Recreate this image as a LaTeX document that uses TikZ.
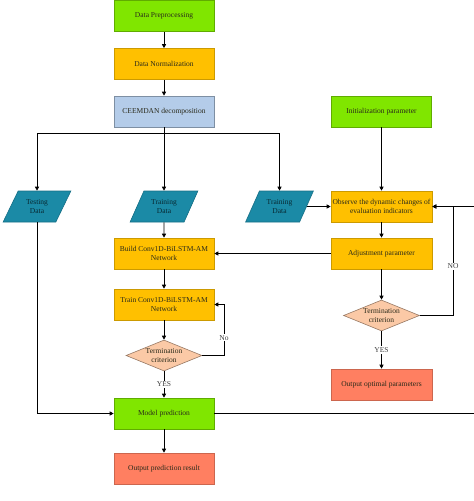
\documentclass[tikz,border=0pt]{standalone}
\usepackage{fontspec}
\setmainfont{Liberation Serif}
\usetikzlibrary{shapes.geometric,arrows.meta}
\definecolor{cgreen}{HTML}{80E600}
\definecolor{corange}{HTML}{FFC000}
\definecolor{cblue}{HTML}{B4CCE9}
\definecolor{cteal}{HTML}{1B8AA6}
\definecolor{cpeach}{HTML}{FBC9A6}
\definecolor{ccoral}{HTML}{FF7F61}
\definecolor{ctext}{HTML}{2A2A1A}
\tikzset{
  box/.style={rectangle, minimum width=100pt, minimum height=31pt, inner sep=1pt,
    font=\fontsize{7.5}{8.5}\selectfont, text=ctext, align=center, line width=0.6pt},
  gbox/.style={box, fill=cgreen, draw=cgreen!75!black},
  obox/.style={box, fill=corange, draw=corange!80!black},
  bbox/.style={box, fill=cblue, draw=cblue!70!black},
  rbox/.style={box, fill=ccoral, draw=ccoral!80!black},
  pdata/.style={trapezium, trapezium left angle=57, trapezium right angle=123,
    trapezium stretches=true, minimum width=68pt, minimum height=31pt, inner sep=0pt,
    fill=cteal, draw=cteal!80!black, line width=0.6pt,
    font=\fontsize{7.5}{8.5}\selectfont, text=cteal!30!black, align=center},
  decide/.style={diamond, minimum width=76pt, minimum height=31pt, inner sep=0pt,
    fill=cpeach, draw=cpeach!60!black, line width=0.6pt, aspect=2.4,
    font=\fontsize{7.5}{8.5}\selectfont, text=ctext, align=center},
  lbl/.style={fill=white, inner sep=1pt, font=\fontsize{7.5}{8.5}\selectfont, text=black!75},
  wire/.style={line width=0.7pt, black},
  arr/.style={wire, -{Triangle[length=4pt,width=4pt]}}
}
\begin{document}
\begin{tikzpicture}[x=1pt,y=-1pt]
\useasboundingbox (0,0) rectangle (474,501);
% nodes
\node[gbox] (pre) at (164,16) {Data Preprocessing};
\node[obox] (norm) at (164,64) {Data Normalization};
\node[bbox] (ceem) at (164,111.5) {CEEMDAN decomposition};
\node[gbox] (init) at (381.5,111.5) {Initialization parameter};
\node[pdata] (test) at (37,206.5) {Testing\\Data};
\node[pdata] (trm) at (164,206.5) {Training\\Data};
\node[pdata] (trr) at (279.5,206.5) {Training\\Data};
\node[obox, minimum width=101pt] (obs) at (381.5,206.5) {Observe the dynamic changes of\\evaluation indicators};
\node[obox, minimum width=101pt] (adj) at (381.5,253.5) {Adjustment parameter};
\node[decide] (dr) at (381.5,315.5) {Termination\\criterion};
\node[rbox, minimum width=101pt] (optp) at (381.5,384.5) {Output optimal parameters};
\node[obox] (build) at (164,253.5) {Build Conv1D-BiLSTM-AM\\Network};
\node[obox] (train) at (164,304.5) {Train Conv1D-BiLSTM-AM\\Network};
\node[decide] (dl) at (164,355.5) {Termination\\criterion};
\node[gbox] (model) at (164,413.5) {Model prediction};
\node[rbox] (outp) at (164,468.5) {Output prediction result};
\coordinate (split) at (164,133);
\coordinate (edgeA) at (474,413.5);
\coordinate (edgeB) at (474,206.5);
% connectors
\draw[arr] (pre) -- (norm);
\draw[arr] (norm) -- (ceem);
\draw[arr] (ceem) -- (trm);
\draw[arr] (split) -| (test);
\draw[arr] (split) -| (trr);
\draw[arr] (init) -- (obs);
\draw[arr] (trr.east) -- (obs.west);
\draw[arr] (obs) -- (adj);
\draw[arr] (adj) -- (dr);
\draw[arr] (dr) -- node[lbl]{YES} (optp);
\draw[arr] (dr.east) -- (453,315.5) -- node[lbl, pos=0.45]{NO} (453,206.5) -- (obs.east);
\draw[arr] (edgeB) -- (obs.east);
\draw[arr] (adj.west) -- (build.east);
\draw[arr] (trm) -- (build);
\draw[arr] (build) -- (train);
\draw[arr] (train) -- (dl);
\draw[arr] (dl.east) -- (224,355.5) -- node[lbl, pos=0.35]{No} (224,304.5) -- (train.east);
\draw[arr] (dl) -- node[lbl]{YES} (model);
\draw[arr] (test.south) |- (model.west);
\draw[wire] (model.east) -- (edgeA);
\draw[arr] (model) -- (outp);
\end{tikzpicture}
\end{document}
